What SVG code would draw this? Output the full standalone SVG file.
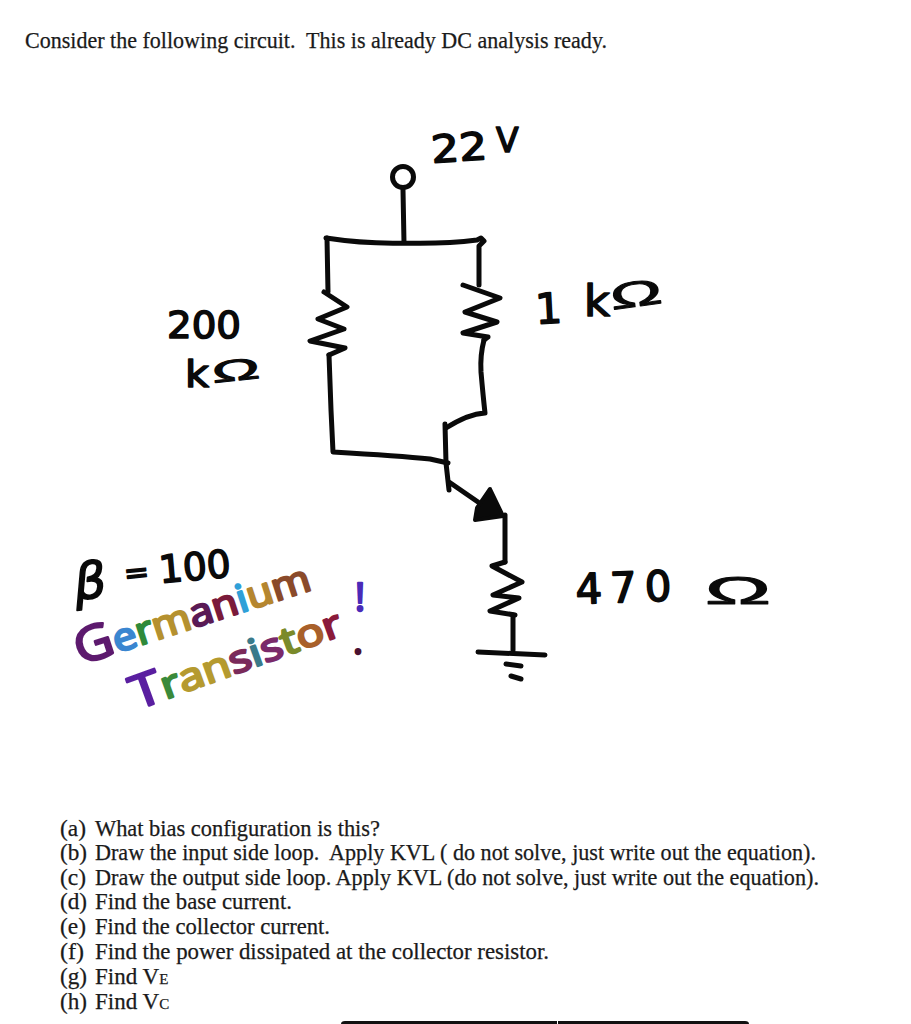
<svg xmlns="http://www.w3.org/2000/svg" width="911" height="1024" viewBox="0 0 911 1024">
<style>
.p{font-family:"Liberation Serif","Times New Roman",serif;font-size:23px;fill:#1a1a1a;stroke:#1a1a1a;stroke-width:.25;white-space:pre}
.s{font-size:15px}
.w{fill:none;stroke:#0a0a0a;stroke-width:5;stroke-linecap:round;stroke-linejoin:round}
.h{font-family:"DejaVu Sans","Open Sans",sans-serif;fill:#0a0a0a;stroke:#0a0a0a;stroke-width:1.6;stroke-linejoin:round}
.o{font-family:"Liberation Sans","Open Sans",sans-serif;stroke-width:1}
.c{font-family:"Open Sans","Liberation Sans",sans-serif;font-size:38px;stroke-width:2.4;stroke-linejoin:round}
</style>
<rect width="911" height="1024" fill="#fff"/>
<g id="title"><text class="p" x="25" y="48" textLength="582" lengthAdjust="spacingAndGlyphs">Consider the following circuit.  This is already DC analysis ready.</text></g>
<g id="connectors">
<path class="w" d="M403 190L404 243M326 238Q365 244 404 243Q445 244 477 240L481 238L484 241L479 246L479 285"/>
<path class="w" d="M327 238L328 292"/>
<path class="w" d="M329 355L331 410L333 452Q400 456 430 459L448 463"/>
<path class="w" d="M484 340Q480 355 481 372Q483 395 485 413Q468 414 446 428"/>
<path class="w" d="M445 424L446 463L449 490M449 482L478 502"/>
<path class="w" d="M505 515L505 562"/>
<path class="w" d="M513 615L513 650"/>
</g>
<g id="node-supply"><circle class="w" cx="403" cy="177" r="10.5"/></g>
<g id="node-r-base"><path class="w" d="M324 292L347 307L318 319L344 329L310 341L345 348L329 355"/></g>
<g id="node-r-collector"><path class="w" d="M463 285L500 298L465 312L497 322L463 333L488 337L484 340"/></g>
<g id="node-transistor"><path d="M490 489L503 516L475 520L477 508Z" fill="#0a0a0a" stroke="#0a0a0a" stroke-width="4" stroke-linejoin="round"/></g>
<g id="node-r-emitter"><path class="w" d="M505 562L492 566L522 582L493 595L519 598L490 611L515 615"/></g>
<g id="node-ground">
<path class="w" d="M478 652L545 655"/>
<path class="w" d="M506 664L521 666M511 676L521 679"/>
</g>
<g id="labels">
<text class="h" font-size="38" transform="translate(432 163) rotate(-4)" textLength="56" lengthAdjust="spacingAndGlyphs">22</text>
<text class="h" font-size="33" transform="translate(496 152)">V</text>
<text class="h" font-size="42" transform="translate(536 324) rotate(-3)">1</text>
<text class="h" font-size="42" transform="translate(584 316)" textLength="26" lengthAdjust="spacingAndGlyphs">k</text>
<text class="h o" font-size="36" transform="translate(612 310) rotate(-8)" textLength="52" lengthAdjust="spacingAndGlyphs">Ω</text>
<text class="h" font-size="38" x="167" y="338" textLength="74" lengthAdjust="spacingAndGlyphs">200</text>
<text class="h" font-size="38" x="185" y="387" textLength="24" lengthAdjust="spacingAndGlyphs">k</text>
<text class="h o" font-size="30" transform="translate(213 383) rotate(-6)" textLength="48" lengthAdjust="spacingAndGlyphs">Ω</text>
<text class="h" font-size="42" transform="translate(576 604) rotate(-2)" letter-spacing="10" textLength="106">470</text>
<text class="h o" font-size="38" x="705" y="604" textLength="66" lengthAdjust="spacingAndGlyphs">Ω</text>
<text class="h" font-size="50" transform="translate(76 600) rotate(-6)" font-style="italic" stroke-width="2">β</text>
<text class="h" font-size="30" transform="translate(125 584) rotate(-6)">=</text>
<text class="h" font-size="38" transform="translate(160 583) rotate(-5)" textLength="72" lengthAdjust="spacingAndGlyphs">100</text>
<text class="c" transform="translate(80 665) rotate(-18)" textLength="245" lengthAdjust="spacingAndGlyphs"><tspan fill="#5d1a6e" stroke="#5d1a6e" font-size="48">G</tspan><tspan fill="#3a86d0" stroke="#3a86d0">e</tspan><tspan fill="#2f8a3a" stroke="#2f8a3a">r</tspan><tspan fill="#b5912f" stroke="#b5912f">m</tspan><tspan fill="#5a1a55" stroke="#5a1a55">a</tspan><tspan fill="#7a1a3a" stroke="#7a1a3a">n</tspan><tspan fill="#2fa0d8" stroke="#2fa0d8">i</tspan><tspan fill="#b5862f" stroke="#b5862f">u</tspan><tspan fill="#8a4a2a" stroke="#8a4a2a">m</tspan></text>
<text class="c" transform="translate(137 710) rotate(-20)" textLength="221" lengthAdjust="spacingAndGlyphs"><tspan fill="#5a1fa0" stroke="#5a1fa0" font-size="46">T</tspan><tspan fill="#3a8a3a" stroke="#3a8a3a">r</tspan><tspan fill="#b59a2f" stroke="#b59a2f">a</tspan><tspan fill="#b59a2f" stroke="#b59a2f">n</tspan><tspan fill="#7a2a5a" stroke="#7a2a5a">s</tspan><tspan fill="#3a7a8a" stroke="#3a7a8a">i</tspan><tspan fill="#7a2a6a" stroke="#7a2a6a">s</tspan><tspan fill="#7a8a2a" stroke="#7a8a2a">t</tspan><tspan fill="#a8602a" stroke="#a8602a">o</tspan><tspan fill="#8a1a3a" stroke="#8a1a3a">r</tspan></text>
<text class="c" x="355" y="611" fill="#4a2ab8" stroke="#4a2ab8" font-size="26">!</text>
<text class="c" x="353" y="654" fill="#4a1030" stroke="#4a1030" font-size="26">.</text>
</g>
<g id="questions">
<text class="p" x="60" y="836" textLength="26" lengthAdjust="spacingAndGlyphs">(a)</text><text class="p" x="95" y="836" textLength="285" lengthAdjust="spacingAndGlyphs">What bias configuration is this?</text>
<text class="p" x="60" y="860" textLength="27" lengthAdjust="spacingAndGlyphs">(b)</text><text class="p" x="95" y="860" textLength="721" lengthAdjust="spacingAndGlyphs">Draw the input side loop.  Apply KVL ( do not solve, just write out the equation).</text>
<text class="p" x="60" y="885" textLength="26" lengthAdjust="spacingAndGlyphs">(c)</text><text class="p" x="95" y="885" textLength="724" lengthAdjust="spacingAndGlyphs">Draw the output side loop. Apply KVL (do not solve, just write out the equation).</text>
<text class="p" x="60" y="909" textLength="27" lengthAdjust="spacingAndGlyphs">(d)</text><text class="p" x="95" y="909" textLength="197" lengthAdjust="spacingAndGlyphs">Find the base current.</text>
<text class="p" x="60" y="934" textLength="26" lengthAdjust="spacingAndGlyphs">(e)</text><text class="p" x="95" y="934" textLength="235" lengthAdjust="spacingAndGlyphs">Find the collector current.</text>
<text class="p" x="60" y="959" textLength="24" lengthAdjust="spacingAndGlyphs">(f)</text><text class="p" x="95" y="959" textLength="454" lengthAdjust="spacingAndGlyphs">Find the power dissipated at the collector resistor.</text>
<text class="p" x="60" y="984" textLength="27" lengthAdjust="spacingAndGlyphs">(g)</text><text class="p" x="95" y="984">Find V<tspan class="s">E</tspan></text>
<text class="p" x="60" y="1009" textLength="27" lengthAdjust="spacingAndGlyphs">(h)</text><text class="p" x="95" y="1009">Find V<tspan class="s">C</tspan></text>
</g>
<path id="bottom-bar" d="M341 1024Q341 1021 345 1021H557V1024ZM558 1021H745Q749 1021 749 1024H558Z" fill="#111"/>
</svg>
